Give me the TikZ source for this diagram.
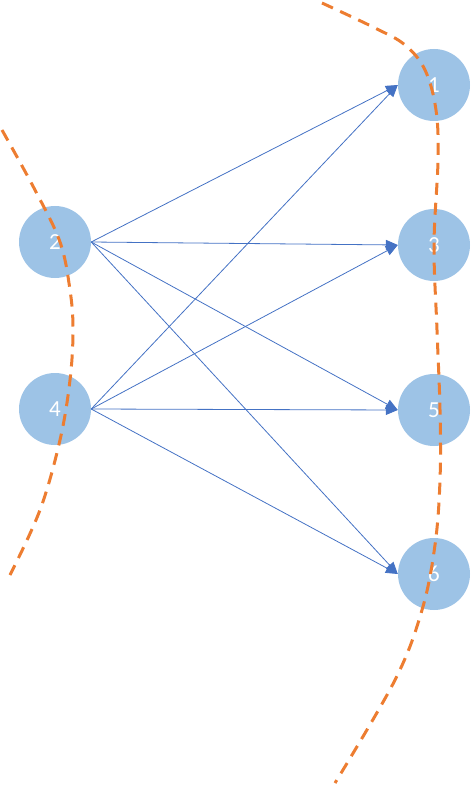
\documentclass[tikz,border=0pt]{standalone}
\usepackage{fontspec}
\setmainfont{Carlito}
\usetikzlibrary{arrows.meta}
\definecolor{nodefill}{HTML}{9DC3E6}
\definecolor{edgeblue}{HTML}{4472C4}
\definecolor{cutorange}{HTML}{ED7D31}
\tikzset{
  vnode/.style={circle, fill=nodefill, minimum size=72pt, inner sep=0pt, text=white, font=\fontsize{23}{26}\selectfont},
  edge/.style={draw=edgeblue, line width=0.8pt, -{Triangle[length=12pt,width=10pt]}},
  cut/.style={draw=cutorange, line width=3pt, dash pattern=on 12pt off 8pt}
}
\begin{document}
\begin{tikzpicture}[x=1pt,y=-1pt]
\useasboundingbox (0,0) rectangle (472,786);
\node[vnode] (n1) at (434,85) {1};
\node[vnode] (n3) at (434,245) {3};
\node[vnode] (n5) at (434,410) {5};
\node[vnode] (n6) at (434,574) {6};
\node[vnode] (n2) at (55,242) {2};
\node[vnode] (n4) at (55,409) {4};
\foreach \s in {n2,n4}{
  \foreach \t in {n1,n3,n5,n6}{
    \draw[edge] (\s.east) -- (\t.west);
  }
}
\draw[cut] plot[smooth, tension=0.6] coordinates {(2,130) (35,190) (60,242) (70,290) (73,330) (70,380) (60,440) (40,510) (10,575)};
\draw[cut] plot[smooth, tension=0.6] coordinates {(322,3) (375,28) (405,45) (425,70) (436,110) (438,160) (434,245) (437,330) (440,410) (440,480) (435,545) (422,610) (395,680) (335,783)};
\end{tikzpicture}
\end{document}
